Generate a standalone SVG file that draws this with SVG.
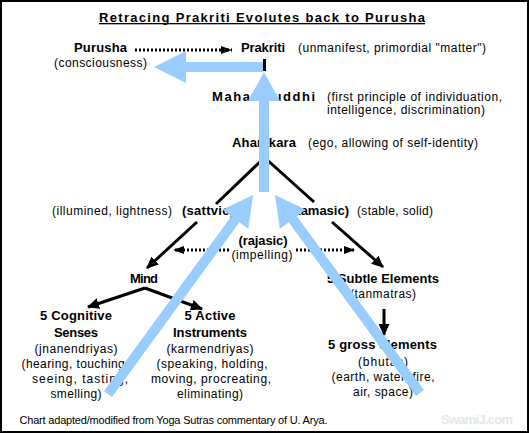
<svg xmlns="http://www.w3.org/2000/svg" width="529" height="433" viewBox="0 0 529 433">
<style>
text{font-family:"Liberation Sans",Arial,sans-serif;fill:#000}
.b{font-weight:bold;font-size:13px}
.r{font-size:12px}
.c{text-anchor:middle}
.ln{stroke:#000;stroke-width:3;fill:none}
.dt{stroke:#000;stroke-width:3;stroke-dasharray:2 2;fill:none}
.blue{fill:#99CCFF}
</style>
<defs>
<marker id="ah" markerUnits="userSpaceOnUse" markerWidth="13" markerHeight="11" refX="11" refY="5.5" orient="auto"><path d="M0,0 L12,5.5 L0,11 Z" fill="#000"/></marker>
<marker id="ad" markerUnits="userSpaceOnUse" markerWidth="12" markerHeight="8" refX="11" refY="4" orient="auto"><path d="M0,0 L11,4 L0,8 Z" fill="#000"/></marker>
</defs>
<rect x="1" y="1" width="527" height="431" fill="#fff" stroke="#000" stroke-width="2"/>
<g id="title">
<text class="b" x="99" y="22" textLength="326">Retracing Prakriti Evolutes back to Purusha</text>
<rect x="99" y="23" width="326" height="1.3" fill="#000"/>
</g>
<g id="connectors">
<line class="dt" x1="135" y1="50" x2="232" y2="50" marker-end="url(#ad)"/>
<line class="ln" x1="264.5" y1="59" x2="264.5" y2="71"/>
<line class="ln" x1="264" y1="158" x2="216" y2="204"/>
<line class="ln" x1="197" y1="222" x2="147" y2="268" marker-end="url(#ah)"/>
<line class="ln" x1="265" y1="158" x2="314" y2="202"/>
<line class="ln" x1="332" y1="222" x2="383" y2="267" marker-end="url(#ah)"/>
<line class="dt" x1="229" y1="250" x2="173" y2="250" marker-end="url(#ad)"/>
<line class="dt" x1="296" y1="250" x2="355" y2="250" marker-end="url(#ad)"/>
<line class="ln" x1="145" y1="288" x2="88" y2="307" marker-end="url(#ah)"/>
<line class="ln" x1="145" y1="288" x2="202" y2="309" marker-end="url(#ah)"/>
<line class="ln" x1="384" y1="309" x2="384" y2="335" marker-end="url(#ah)"/>
</g>
<g id="purusha">
<text class="b" x="74" y="52" textLength="53">Purusha</text>
<text class="r" x="54" y="67" textLength="93">(consciousness)</text>
</g>
<g id="prakriti">
<text class="b" x="241" y="52" textLength="44">Prakriti</text>
<text class="r" x="298" y="52" textLength="188">(unmanifest, primordial "matter")</text>
</g>
<g id="mahat">
<text class="b" x="212" y="101" textLength="103">Mahat Buddhi</text>
<text class="r" x="327" y="101" textLength="175">(first principle of individuation,</text>
<text class="r" x="327" y="114" textLength="158">intelligence, discrimination)</text>
</g>
<g id="ahamkara">
<text class="b" x="232" y="147" textLength="64">Ahamkara</text>
<text class="r" x="308" y="147" textLength="170">(ego, allowing of self-identity)</text>
</g>
<g id="sattvic">
<text class="r" x="52" y="215" textLength="120">(illumined, lightness)</text>
<text class="b" x="182" y="215" textLength="52">(sattvic)</text>
</g>
<g id="tamasic">
<text class="b" x="292" y="215" textLength="57">(tamasic)</text>
<text class="r" x="357" y="215" textLength="76">(stable, solid)</text>
</g>
<g id="rajasic">
<text class="b c" x="263" y="245" textLength="49">(rajasic)</text>
<text class="r c" x="262" y="259" textLength="61">(impelling)</text>
</g>
<g id="mind">
<text class="b" x="130" y="283" textLength="28">Mind</text>
</g>
<g id="subtle">
<text class="b" x="327" y="283" textLength="112">5 Subtle Elements</text>
<text class="r c" x="383" y="298" textLength="66">(tanmatras)</text>
</g>
<g id="cognitive">
<text class="b c" x="76" y="320" textLength="72">5 Cognitive</text>
<text class="b c" x="76" y="337" textLength="44">Senses</text>
<text class="r c" x="76" y="353" textLength="83">(jnanendriyas)</text>
<text class="r c" x="75" y="368" textLength="107">(hearing, touching,</text>
<text class="r c" x="80" y="383" textLength="96">seeing, tasting,</text>
<text class="r c" x="76" y="398" textLength="51">smelling)</text>
</g>
<g id="active">
<text class="b c" x="210" y="320" textLength="51">5 Active</text>
<text class="b c" x="210" y="337" textLength="74">Instruments</text>
<text class="r c" x="210" y="353" textLength="87">(karmendriyas)</text>
<text class="r c" x="212" y="368" textLength="111">(speaking, holding,</text>
<text class="r c" x="211" y="383" textLength="120">moving, procreating,</text>
<text class="r c" x="210" y="398" textLength="66">eliminating)</text>
</g>
<g id="gross">
<text class="b" x="328" y="349" textLength="109">5 gross elements</text>
<text class="r c" x="383" y="366" textLength="50">(bhutas)</text>
<text class="r c" x="383" y="381" textLength="103">(earth, water, fire,</text>
<text class="r c" x="383" y="396" textLength="60">air, space)</text>
</g>
<g id="retrace-connectors">
<polygon class="blue" points="154,67 186,51 186,62 263,62 263,72 186,72 186,83"/>
<polygon class="blue" points="264,72 280,101 269,101 269,192 259,192 259,101 248,101"/>
<polygon class="blue" points="253,195 248.3,228.7 239.4,222.2 112,397 104,391.1 231.3,216.3 222.4,209.8"/>
<polygon class="blue" points="275,195 305.6,209.8 296.8,216.3 424,390.1 416,396 288.7,222.2 279.8,228.7"/>
</g>
<g id="footer">
<text x="19.5" y="424" style="font-size:11px" textLength="308">Chart adapted/modified from Yoga Sutras commentary of U. Arya.</text>
<text x="441" y="424" style="font-size:13px;font-weight:bold;fill:#e2ebe2" textLength="72">SwamiJ.com</text>
</g>
</svg>
